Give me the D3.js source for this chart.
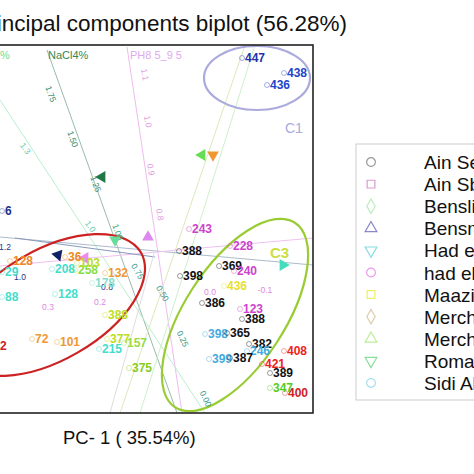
<!DOCTYPE html>
<html><head><meta charset="utf-8">
<script src="https://cdn.jsdelivr.net/npm/d3@7"></script>
<style>body{margin:0;background:#fff}svg{display:block;font-family:Arial,"Liberation Sans",sans-serif}</style>
</head><body>
<script>
// score points: [label, pc1, pc2, colour]
const points = [
  ["243",7.4,3.4,"#cc44cc"],["228",15.6,0,"#cc44cc"],["388",5.4,-1,"#111"],["369",13.4,-4,"#111"],
  ["240",16.4,-5,"#cc44cc"],["398",5.6,-6,"#111"],["436",14.4,-8,"#e8e030"],["386",10,-11.4,"#111"],
  ["123",17.6,-12.6,"#cc44cc"],["388",18,-14.6,"#111"],["398",10.6,-17.6,"#44aadd"],["365",15,-17.4,"#111"],
  ["382",19.4,-19.6,"#111"],["246",19,-21,"#44aadd"],["399",11.4,-22.6,"#44aadd"],["387",15.6,-22.4,"#111"],
  ["408",26.4,-21,"#ee2222"],["421",22,-23.6,"#ee2222"],["389",23.6,-25.4,"#111"],["400",26.6,-29.4,"#cc2222"],
  ["347",23.6,-28.4,"#55cc22"],
  ["447",18,37.6,"#2233aa"],["438",26.4,34.6,"#2244cc"],["436",23,32.2,"#2244cc"],
  ["128",-28.4,-3,"#ee8822"],["29",-30,-5.2,"#44ddcc"],["208",-20,-4.6,"#44ddcc"],["258",-15.4,-4.8,"#88dd44"],
  ["36",-17.4,-2.2,"#ee8822"],["103",-15,-3.4,"#bbdd22"],["132",-9.4,-5.4,"#ee9933"],["178",-12,-7.4,"#88ddcc"],
  ["128",-19.4,-9.6,"#44ddcc"],["88",-30,-10.2,"#44ddcc"],["388",-9.4,-13.8,"#bbdd22"],["72",-24,-18.6,"#ee9933"],
  ["101",-19,-19.2,"#ee9933"],["377",-9,-18.6,"#bbdd22"],["157",-5.6,-19.4,"#99dd44"],["215",-10.6,-20.6,"#44ddcc"],
  ["375",-4.6,-24.4,"#88cc22"],["6",-30,7,"#223388"],["2",-31,-20,"#cc2222"]
];
// variable axes: [x1,y1,x2,y2,colour]
const axes = [
  [-21.6,40,4.4,-32.6,"#99bbaa"],[-5.6,40.6,5.4,-32.6,"#eebbee"],[-31,30,10,-32.6,"#bbeecc"],
  [18,41,-7,-32.6,"#dde8bb"],[20,41,-3,-32.6,"#ccf0cc"],[-31,2.6,31.6,-3,"#aabbcc"],
  [-31,-3.2,31.6,2.4,"#f0c0f0"],[-28,2.4,0,-1.4,"#8899bb"],[0,0,-9,-32.6,"#dddddd"]
];
// axis tick labels: [text, x, y, colour, rotation]
const ticks = [
  ["1.75",-21.4,31,"#338866",70],["1.50",-17,22,"#338866",70],["1.25",-12.4,13,"#338866",70],["1.00",-8,3.4,"#33aa77",70],
  ["1.1",-2.6,35,"#dd99dd",80],["1.0",-2,25.6,"#dd99dd",80],["0.9",-1.4,16,"#dd99dd",80],["0.8",0.4,7,"#dd99dd",80],
  ["1.3",-26.4,20,"#66ccaa",55],["1.0",-13.4,4.4,"#66ccaa",55],
  ["0.75",-4,-4.6,"#339988",60],["0.50",1,-9,"#339988",60],["0.25",5,-18,"#339988",65],["0.00",9.6,-30,"#339988",65],
  ["0.3",-21.4,-12,"#dd88dd",0],["0.2",-11,-11,"#dd88dd",0],["0.0",11,-9,"#dd88dd",0],["-0.1",22,-8.6,"#dd88dd",0],
  ["1.0",-27,-6,"#223388",0],["0.8",-9.6,-8,"#223388",0],["1.2",-30,0,"#223388",0]
];
// arrow heads: [x, y, colour, rotation]
const arrows = [
  [-10.6,14.6,"#227744",30],[-8,2,"#66dd99",180],[-19.4,-1,"#112266",160],[-14,-1.6,"#ee88ee",-90],
  [-1.4,2.6,"#dd88ee",0],[25.6,-3,"#44ddbb",90],[9.4,19,"#66dd55",-90],[11.6,19,"#ee9933",-60]
];
const legendNames = ["Ain Sebaa","Ain Sbit","Benslimane","Bensmim","Had el Brachoua","had el Gharbia","Maaziz","Mercheh","Merchouch","Romani","Sidi Allal"];
const legendColors = ["#999","#dd99cc","#bbeebb","#8888cc","#88dddd","#ee99ee","#eeee66","#ddccaa","#bbee99","#88dd99","#aaddee"];
const legendShapes = ["circle","square","diamond","triangle","down","circle","square","diamond","triangle","down","circle"];

const svg = d3.select("body").append("svg").attr("width",474).attr("height",474);
const x = d3.scaleLinear().domain([-31,32]).range([0,315]);
const y = d3.scaleLinear().domain([-33,41]).range([415,45]);

svg.append("clipPath").attr("id","c").append("rect").attr("x",-5).attr("y",45).attr("width",318).attr("height",368);
const g = svg.append("g").attr("clip-path","url(#c)");

g.selectAll(".ax").data(axes).join("line")
  .attr("x1",d=>x(d[0])).attr("y1",d=>y(d[1])).attr("x2",d=>x(d[2])).attr("y2",d=>y(d[3]))
  .attr("stroke",d=>d[4]).attr("stroke-width",1);

// ellipses
const ell = [[-21,-11,21,11,-30,"#cc2222"],[16,-13,22,10,-57,"#99cc33"],[20.4,34.4,10.6,6.4,0,"#aaaadd"]];
g.selectAll(".el").data(ell).join("ellipse")
  .attr("transform",d=>`translate(${x(d[0])},${y(d[1])}) rotate(${d[4]})`)
  .attr("rx",d=>x(d[2])-x(0)).attr("ry",d=>x(d[3])-x(0))
  .attr("fill","none").attr("stroke",d=>d[5]).attr("stroke-width",2.2);

g.selectAll(".tk").data(ticks).join("text")
  .attr("transform",d=>`translate(${x(d[1])},${y(d[2])}) rotate(${d[4]})`)
  .attr("font-size",8.5).attr("fill",d=>d[3]).attr("text-anchor","middle").text(d=>d[0]);

g.selectAll(".ar").data(arrows).join("path")
  .attr("transform",d=>`translate(${x(d[0])},${y(d[1])}) rotate(${d[3]})`)
  .attr("d",d3.symbol(d3.symbolTriangle,60)).attr("fill",d=>d[2]);

const pg = g.selectAll(".pt").data(points).join("g")
  .attr("transform",d=>`translate(${x(d[1])},${y(d[2])})`);
pg.append("circle").attr("r",2.5).attr("cx",-3).attr("cy",-4).attr("fill","none").attr("stroke",d=>d[3]).attr("stroke-width",0.6).attr("opacity",0.7);
pg.append("text").attr("font-size",12).attr("font-weight","bold").attr("fill",d=>d[3]).text(d=>d[0]);

g.append("text").attr("x",0).attr("y",59).attr("font-size",11).attr("fill","#66dd99").text("%");
g.append("text").attr("x",48).attr("y",59).attr("font-size",11).attr("fill","#338855").text("NaCl4%");
g.append("text").attr("x",130).attr("y",59).attr("font-size",11).attr("fill","#ddaaee").text("PH8 5_9 5");
g.append("text").attr("x",x(26)).attr("y",y(23.4)).attr("font-size",14).attr("fill","#aaaadd").text("C1");
g.append("text").attr("x",x(23)).attr("y",y(-1.6)).attr("font-size",15).attr("font-weight","bold").attr("fill","#ccdd44").text("C3");

svg.append("rect").attr("x",-5).attr("y",45).attr("width",318).attr("height",368)
  .attr("fill","none").attr("stroke","#222").attr("stroke-width",1.6);

svg.append("text").attr("x",347).attr("y",31).attr("text-anchor","end").attr("font-size",22.5).attr("fill","#111")
  .text("Principal components biplot (56.28%)");
svg.append("text").attr("x",63).attr("y",444).attr("font-size",18.5).attr("fill","#111").text("PC- 1 ( 35.54%)");

// legend
svg.append("rect").attr("x",356).attr("y",144).attr("width",130).attr("height",256)
  .attr("fill","#fff").attr("stroke","#ccc").attr("stroke-width",1);
const shp = {circle:d3.symbolCircle,square:d3.symbolSquare,diamond:d3.symbolDiamond,triangle:d3.symbolTriangle,down:d3.symbolTriangle};
const ly = d3.scaleBand().domain(d3.range(legendNames.length)).range([151,394]);
const lg = svg.selectAll(".lg").data(legendNames).join("g")
  .attr("transform",(d,i)=>`translate(0,${ly(i)+ly.bandwidth()/2})`);
lg.append("path").attr("transform",(d,i)=>`translate(371,0) rotate(${legendShapes[i]==="down"?180:0})`)
  .attr("d",(d,i)=>d3.symbol(shp[legendShapes[i]],60)()).attr("fill","none")
  .attr("stroke",(d,i)=>legendColors[i]).attr("stroke-width",1.2);
lg.append("text").attr("x",424).attr("y",7).attr("font-size",19).attr("fill","#111").text(d=>d);
</script>
</body></html>
